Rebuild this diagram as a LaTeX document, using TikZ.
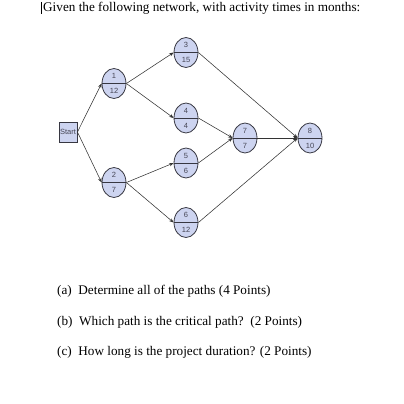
\documentclass[tikz,border=0pt]{standalone}
\usepackage{fontspec}
\setmainfont{Liberation Serif}
\newfontfamily\arialf{Liberation Sans}
\usetikzlibrary{shapes.geometric,arrows.meta,calc}
\definecolor{nodefill}{RGB}{205,212,240}
\definecolor{nodeline}{RGB}{55,55,65}
\definecolor{labtext}{RGB}{70,70,85}
\tikzset{
  act/.style={ellipse, draw=nodeline, fill=nodefill, line width=0.8pt, minimum width=24pt, minimum height=30pt, inner sep=0pt},
  lab/.style={font=\arialf\fontsize{7.5}{8}\selectfont, text=labtext, inner sep=0pt},
  conn/.style={draw=black!80, line width=0.55pt, -{Stealth[length=4.5pt,width=3.5pt]}},
  startbox/.style={draw=nodeline, fill=nodefill, line width=0.9pt, minimum width=18pt, minimum height=20pt, inner sep=0pt, font=\arialf\fontsize{7.5}{8}\selectfont, text=labtext},
  qtext/.style={anchor=west, inner sep=0pt, font=\fontsize{13.2}{15}\selectfont}
}
\newcommand{\actnode}[4]{%
  \node[act] (#1) at (#2) {};
  \draw[nodeline, line width=0.9pt] (#1.west) -- (#1.east);
  \node[lab] at ($(#1.center)+(0,-7.5)$) {#3};
  \node[lab] at ($(#1.center)+(0,7.5)$) {#4};
}
\begin{document}
\begin{tikzpicture}[x=1pt,y=-1pt]
\useasboundingbox (0,0) rectangle (404,404);
\node[qtext] (title) at (43,8) {Given the following network, with activity times in months:};
\draw[line width=0.6pt] (41.5,2) -- (41.5,14);
\node[startbox] (start) at (68,132) {Start};
\actnode{n1}{114,83.5}{1}{12}
\actnode{n2}{114,182.5}{2}{7}
\actnode{n3}{186,52.5}{3}{15}
\actnode{n4}{186,118}{4}{4}
\actnode{n5}{186,163}{5}{6}
\actnode{n6}{186,222.5}{6}{12}
\actnode{n7}{245,138}{7}{7}
\actnode{n8}{310,138}{8}{10}
\draw[conn] (start.east) -- (n1.west);
\draw[conn] (start.east) -- (n2.west);
\draw[conn] (n1.east) -- (n3.west);
\draw[conn] (n1.east) -- (n4.west);
\draw[conn] (n2.east) -- (n5.west);
\draw[conn] (n2.east) -- (n6.west);
\draw[conn] (n3.east) -- (n8.west);
\draw[conn] (n4.east) -- (n7.west);
\draw[conn] (n5.east) -- (n7.west);
\draw[conn] (n6.east) -- (n8.west);
\draw[conn] (n7.east) -- (n8.west);
\node[qtext] (qa) at (57,291) {(a)\ \ Determine all of the paths (4 Points)};
\node[qtext] (qb) at (57,322) {(b)\ \ Which path is the critical path?\ \ (2 Points)};
\node[qtext] (qc) at (57,352) {(c)\ \ How long is the project duration? (2 Points)};
\end{tikzpicture}
\end{document}
